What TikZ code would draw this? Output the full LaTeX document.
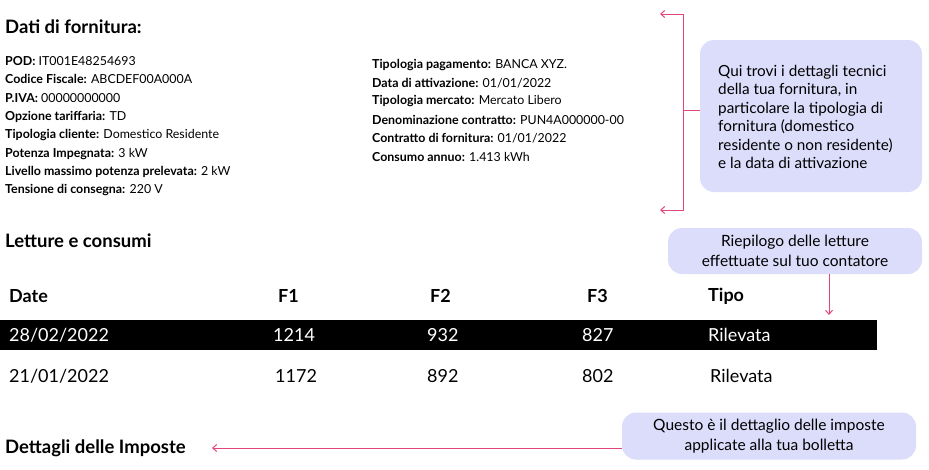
\documentclass[tikz,border=0pt]{standalone}
\usepackage{fontspec}
\setmainfont{Lato}
\usetikzlibrary{arrows.meta}
\definecolor{pink}{HTML}{E0457B}
\definecolor{lav}{HTML}{DCDCFB}
\tikzset{
  title/.style={anchor=west,font=\fontsize{18.5}{21}\selectfont\bfseries,inner sep=0pt},
  info/.style={anchor=west,font=\fontsize{12.4}{15}\selectfont,inner sep=0pt},
  cell/.style={anchor=west,font=\fontsize{18}{21}\selectfont,inner sep=0pt},
  bubble/.style={fill=lav,rounded corners=14pt,font=\fontsize{15.5}{20}\selectfont},
  pinkline/.style={draw=pink,line width=1pt,-{Straight Barb[length=4pt,width=7pt]}}
}
\begin{document}
\begin{tikzpicture}[x=1pt,y=-1pt]
\useasboundingbox (0,0) rectangle (929,469);
\node[title] (dati) at (5,27) {Dati di fornitura:};
\node[info] (l1) at (5,61) {\textbf{POD:} IT001E48254693};
\node[info] (l2) at (5,79) {\textbf{Codice Fiscale:} ABCDEF00A000A};
\node[info] (l3) at (5,98) {\textbf{P.IVA:} 00000000000};
\node[info] (l4) at (5,117) {\textbf{Opzione tariffaria:} TD};
\node[info] (l5) at (5,135) {\textbf{Tipologia cliente:} Domestico Residente};
\node[info] (l6) at (5,154) {\textbf{Potenza Impegnata:} 3 kW};
\node[info] (l7) at (5,172) {\textbf{Livello massimo potenza prelevata:} 2 kW};
\node[info] (l8) at (5,190) {\textbf{Tensione di consegna:} 220 V};
\node[info] (r1) at (372,65) {\textbf{Tipologia pagamento:} BANCA XYZ.};
\node[info] (r2) at (372,83) {\textbf{Data di attivazione:} 01/01/2022};
\node[info] (r3) at (372,101) {\textbf{Tipologia mercato:} Mercato Libero};
\node[info] (r4) at (372,120) {\textbf{Denominazione contratto:} PUN4A000000-00};
\node[info] (r5) at (372,138) {\textbf{Contratto di fornitura:} 01/01/2022};
\node[info] (r6) at (372,157) {\textbf{Consumo annuo:} 1.413 kWh};
% bubble dati
\node[bubble,minimum width=222pt,minimum height=152pt] (b1) at (811,116) {};
\node[anchor=west,align=left,font=\fontsize{15.3}{18.4}\selectfont,inner sep=0pt] (t1) at (718,117)
  {Qui trovi i dettagli tecnici\\della tua fornitura, in\\particolare la tipologia di\\fornitura (domestico\\residente o non residente)\\e la data di attivazione};
\coordinate (ct) at (683,14);
\coordinate (cb) at (683,210);
\coordinate (at) at (660,14);
\coordinate (ab) at (660,210);
\draw[pinkline] (683,110) -- (cb) -- (ab);
\draw[pinkline] (683,110) -- (ct) -- (at);
\draw[draw=pink,line width=1pt] (683,110) -- (b1.west |- 0,110);
% letture
\node[title] (lett) at (5,241) {Letture e consumi};
\node[bubble,minimum width=254pt,minimum height=46pt,align=center,inner sep=0pt] (b2) at (795,251)
  {Riepilogo delle letture\\effettuate sul tuo contatore};
\coordinate (a2) at (829,315);
\draw[pinkline] (b2.south -| a2) -- (a2);
\fill[black] (0,320) rectangle (877,350);
\foreach \x/\t in {9/Date,278/F1,430/F2,587/F3,708/Tipo}
  \node[cell,font=\fontsize{18}{21}\selectfont\bfseries] at (\x,296) {\t};
\foreach \x/\t in {9/28\slash 02\slash 2022,273/1214,427/932,582/827,708/Rilevata}
  \node[cell,text=white] at (\x,335) {\t};
\foreach \x/\t in {9/21\slash 01\slash 2022,275/1172,427/892,582/802,710/Rilevata}
  \node[cell] at (\x,376) {\t};
% imposte
\node[title] (imp) at (5,448) {Dettagli delle Imposte};
\node[bubble,minimum width=294pt,minimum height=47pt,align=center,inner sep=0pt] (b3) at (769,436)
  {Questo è il dettaglio delle imposte\\applicate alla tua bolletta};
\coordinate (a3) at (212,448);
\draw[pinkline] (b3.west |- a3) -- (a3);
\end{tikzpicture}
\end{document}
